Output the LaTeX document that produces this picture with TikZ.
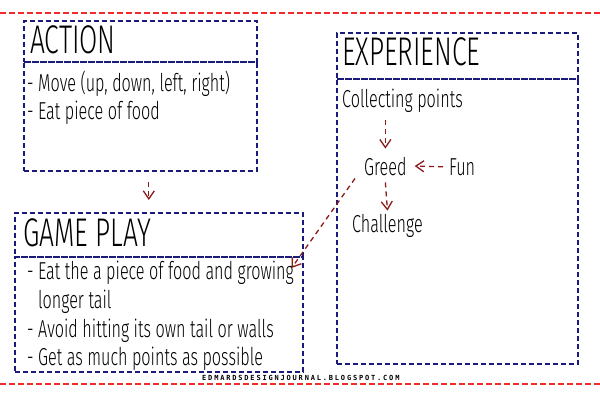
\documentclass[tikz,border=0pt]{standalone}
\usepackage{fontspec}
\setmainfont{Fira Sans Light}[FakeStretch=0.66]
\newfontfamily\footf{DejaVu Sans Mono Bold}[LetterSpace=26]
\usetikzlibrary{arrows.meta}
\definecolor{navy}{HTML}{1A1A7A}
\definecolor{darkred}{HTML}{8B1A1A}
\definecolor{redl}{HTML}{F22A2A}
\begin{document}
\begin{tikzpicture}[x=1pt,y=-1pt,
 box/.style={draw=navy, line width=1.6pt, dash pattern=on 5pt off 3pt, inner sep=0pt, anchor=north west},
 head/.style={font=\fontsize{40}{43}\selectfont, anchor=base west, inner sep=0pt},
 body/.style={font=\fontsize{24.5}{27}\selectfont, anchor=base west, inner sep=0pt},
 arr/.style={draw=darkred, line width=1.3pt, dash pattern=on 5pt off 4pt, -{Straight Barb[length=8pt,width=11pt]}},
 sep/.style={draw=redl, line width=1.3pt, dash pattern=on 6pt off 3pt}]
\useasboundingbox (0,0) rectangle (600,400);
\fill[white] (0,0) rectangle (600,400);
% separators
\coordinate (tl) at (0,13); \coordinate (tr) at (600,13);
\coordinate (bl) at (0,384); \coordinate (br) at (600,384);
\draw[sep] (tl) -- (tr);
\draw[sep] (bl) -- (br);
% boxes
\node[box, minimum width=233pt, minimum height=41pt] (acthead) at (23,20) {};
\node[box, minimum width=233pt, minimum height=109pt] (actbody) at (23,61) {};
\node[box, minimum width=288pt, minimum height=44pt] (gphead) at (14,212) {};
\node[box, minimum width=288pt, minimum height=115pt] (gpbody) at (14,256) {};
\node[box, minimum width=241pt, minimum height=46pt] (exphead) at (336,32) {};
\node[box, minimum width=241pt, minimum height=285pt] (expbody) at (336,78) {};
% texts
\node[head] (acttitle) at (30,53) {ACTION};
\node[body] (act1) at (27,91) {- Move (up, down, left, right)};
\node[body] (act2) at (27,119) {- Eat piece of food};
\node[head] (gptitle) at (23,246) {GAME PLAY};
\node[body] (gp1) at (27,279) {- Eat the a piece of food and growing};
\node[body] (gp1b) at (38,308) {longer tail};
\node[body] (gp2) at (27,337) {- Avoid hitting its own tail or walls};
\node[body] (gp3) at (27,365) {- Get as much points as possible};
\node[head] (exptitle) at (342,65) {EXPERIENCE};
\node[body] (collect) at (342,107) {Collecting points};
\node[body] (greed) at (364,175) {Greed};
\node[body] (fun) at (449,175) {Fun};
\node[body] (chal) at (352,232) {Challenge};
\node[font=\footf\fontsize{7}{8}\selectfont, anchor=base west, inner sep=0pt] (foot) at (202,380) {EDMARDSDESIGNJOURNAL.BLOGSPOT.COM};
% arrows
\draw[arr] ([xshift=8.5pt,yshift=-10pt]actbody.south) -- ([xshift=-10pt,yshift=12pt]gphead.north);
\draw[arr] ([yshift=-8pt]greed.north |- collect.south) -- ([yshift=8pt]greed.north);
\draw[arr] ([xshift=-6pt]fun.west) -- ([xshift=8pt]greed.east);
\draw[arr] ([yshift=-7pt]greed.south) -- ([yshift=3pt]chal.north);
\draw[arr] ([xshift=-9pt,yshift=-3pt]greed.south west) -- ([xshift=-12pt,yshift=-12pt]gpbody.north east);
\end{tikzpicture}
\end{document}
